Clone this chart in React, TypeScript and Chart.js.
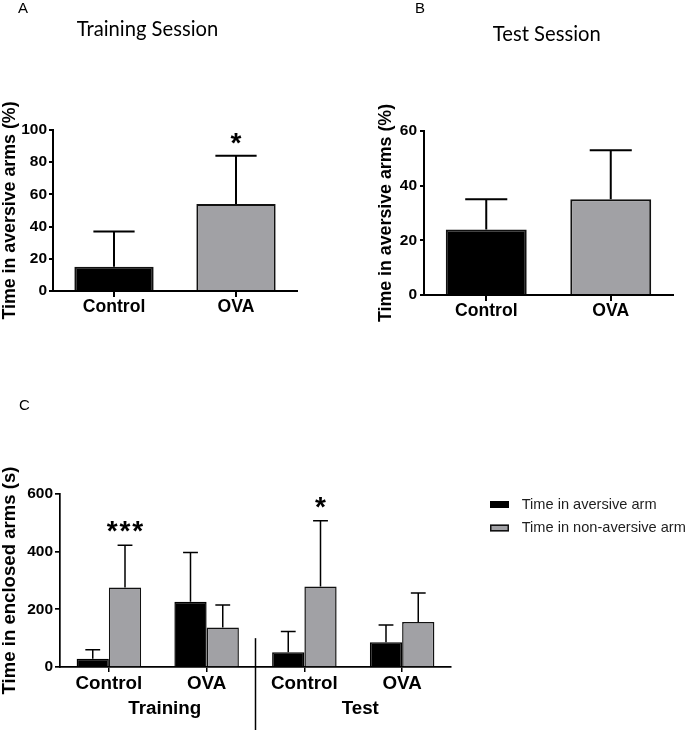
import React, { useEffect, useRef } from 'react';
import { Chart, registerables } from 'chart.js';

Chart.register(...registerables);

// ---------------- Data ----------------
const sessionCategories = ['Control', 'OVA'];

const trainingPercent = [15, 54];
const trainingPercentErr = [22, 30];
const trainingStars = ['', '*'];

const testPercent = [24, 35];
const testPercentErr = [11, 18];
const testStars = ['', ''];

const enclosedCategories = ['Control', 'OVA', 'Control', 'OVA'];
const enclosedGroups = ['Training', 'Test'];
const aversiveTime = [29, 226, 51, 86];
const aversiveTimeErr = [31, 171, 72, 60];
const aversiveStars = ['', '', '', ''];
const nonAversiveTime = [276, 137, 279, 156];
const nonAversiveTimeErr = [146, 78, 228, 101];
const nonAversiveStars = ['***', '', '*', ''];

const seriesLabels = ['Time in aversive arm', 'Time in non-aversive arm'];
const panelTitles = ['Training Session', 'Test Session'];
const panelLetters = ['A', 'B', 'C'];
const yTitlePercent = 'Time in aversive arms (%)';
const yTitleSeconds = 'Time in enclosed arms (s)';

const yTicksTraining = [0, 20, 40, 60, 80, 100];
const yTicksTest = [0, 20, 40, 60];
const yTicksEnclosed = [0, 200, 400, 600];

// ---------------- Styles ----------------
const FONT = '"Liberation Sans", Arial, Helvetica, sans-serif';
const BLACK_FILL = '#000000';
const GRAY_FILL = '#a1a1a5';
const EDGE = '#111111';

// ---------------- Plugins ----------------
const errorBarPlugin = {
  id: 'errorBars',
  afterDatasetsDraw(chart: any, _args: any, opts: any) {
    const { ctx } = chart;
    const yScale = chart.scales.y;
    chart.data.datasets.forEach((ds: any, di: number) => {
      const meta = chart.getDatasetMeta(di);
      meta.data.forEach((bar: any, i: number) => {
        const v = ds.data[i];
        const e = ds.errors ? ds.errors[i] : 0;
        const { x, width } = bar.getProps(['x', 'width'], true);
        const yVal = yScale.getPixelForValue(v);
        const yTop = yScale.getPixelForValue(v + e);
        const half = (width * opts.capRatio) / 2;
        ctx.save();
        ctx.strokeStyle = opts.color;
        ctx.lineWidth = opts.lineWidth;
        ctx.beginPath();
        ctx.moveTo(x, yVal);
        ctx.lineTo(x, yTop);
        ctx.moveTo(x - half, yTop);
        ctx.lineTo(x + half, yTop);
        ctx.stroke();
        const s: string = ds.stars ? ds.stars[i] : '';
        if (s) {
          ctx.font = opts.starFont;
          ctx.fillStyle = opts.color;
          ctx.textAlign = 'center';
          ctx.textBaseline = 'alphabetic';
          const m = ctx.measureText('*');
          const cy = yTop - opts.starGap;
          const by = cy + (m.actualBoundingBoxAscent - m.actualBoundingBoxDescent) / 2;
          const n = s.length;
          for (let k = 0; k < n; k++) {
            ctx.fillText(s[k], x + (k - (n - 1) / 2) * opts.starSpacing, by);
          }
        }
        ctx.restore();
      });
    });
  },
};

const sideLegendPlugin = {
  id: 'sideLegend',
  afterDraw(chart: any, _args: any, opts: any) {
    const { ctx, chartArea } = chart;
    chart.data.datasets.forEach((ds: any, i: number) => {
      const bx = chartArea.right + opts.offsetX;
      const cy = chartArea.top + opts.offsetY + i * opts.spacing;
      ctx.save();
      ctx.fillStyle = ds.backgroundColor;
      ctx.fillRect(bx, cy - opts.boxH / 2, opts.boxW, opts.boxH);
      ctx.strokeStyle = ds.borderColor;
      ctx.lineWidth = 1.5;
      ctx.strokeRect(bx + 0.75, cy - opts.boxH / 2 + 0.75, opts.boxW - 1.5, opts.boxH - 1.5);
      ctx.font = opts.font;
      ctx.fillStyle = opts.color;
      ctx.textAlign = 'left';
      ctx.textBaseline = 'middle';
      ctx.fillText(ds.label, bx + opts.textGap, cy);
      ctx.restore();
    });
  },
};

const groupDividerPlugin = {
  id: 'groupDivider',
  afterDraw(chart: any, _args: any, opts: any) {
    const { ctx } = chart;
    const xs = chart.scales.x;
    const ys = chart.scales.y;
    const px = (xs.getPixelForValue(opts.after) + xs.getPixelForValue(opts.after + 1)) / 2;
    const top = ys.getPixelForValue(opts.fromValue);
    ctx.save();
    ctx.strokeStyle = '#000';
    ctx.lineWidth = opts.lineWidth;
    ctx.beginPath();
    ctx.moveTo(px, top);
    ctx.lineTo(px, chart.height - opts.bottomGap);
    ctx.stroke();
    ctx.restore();
  },
};

// ---------------- Configs ----------------
function sessionConfig(p: {
  means: number[];
  errs: number[];
  stars: string[];
  yTicks: number[];
  w: number;
  h: number;
  left: number;
  right: number;
  top: number;
  bottom: number;
  padLeft: number;
  titlePad: number;
  tickPad: number;
}): any {
  return {
    type: 'bar',
    data: {
      labels: sessionCategories,
      datasets: [
        {
          data: p.means,
          errors: p.errs,
          stars: p.stars,
          backgroundColor: [BLACK_FILL, GRAY_FILL],
          borderColor: EDGE,
          borderWidth: 2,
          borderSkipped: 'bottom',
          categoryPercentage: 0.65,
          barPercentage: 1,
        },
      ],
    },
    plugins: [errorBarPlugin],
    options: {
      responsive: false,
      animation: false,
      events: [],
      layout: { padding: { left: p.padLeft, top: p.top, right: p.w - p.right, bottom: 0 } },
      plugins: {
        legend: { display: false },
        tooltip: { enabled: false },
        errorBars: {
          color: '#000',
          lineWidth: 2,
          capRatio: 0.52,
          starGap: 17.5,
          starSpacing: 12.7,
          starFont: `bold 28px ${FONT}`,
        },
      },
      scales: {
        x: {
          offset: true,
          grid: { offset: false, drawOnChartArea: false, drawTicks: true, tickLength: 6, color: '#000', lineWidth: 2 },
          border: { display: true, color: '#000', width: 2 },
          ticks: { color: '#000', padding: 0, font: { family: FONT, size: 17.6, weight: 'bold' } },
          afterFit: (s: any) => {
            s.height = p.h - p.bottom;
          },
        },
        y: {
          min: p.yTicks[0],
          max: p.yTicks[p.yTicks.length - 1],
          ticks: {
            stepSize: p.yTicks[1] - p.yTicks[0],
            color: '#000',
            padding: p.tickPad,
            font: { family: FONT, size: 15.5, weight: 'bold' },
          },
          grid: { drawOnChartArea: false, drawTicks: true, tickLength: 4, color: '#000', lineWidth: 2 },
          border: { display: true, color: '#000', width: 2 },
          title: {
            display: true,
            text: yTitlePercent,
            color: '#000',
            padding: { top: p.titlePad, bottom: 0 },
            font: { family: FONT, size: 17.8, weight: 'bold', lineHeight: 1 },
          },
          afterFit: (s: any) => {
            s.width = p.left - p.padLeft;
          },
        },
      },
    },
  };
}

function enclosedConfig(): any {
  const W = 685;
  const H = 352;
  const left = 60;
  const right = 451;
  const top = 114;
  const bottom = 287;
  const xH = 30;
  return {
    type: 'bar',
    data: {
      labels: enclosedCategories,
      datasets: [
        {
          label: seriesLabels[0],
          data: aversiveTime,
          errors: aversiveTimeErr,
          stars: aversiveStars,
          backgroundColor: BLACK_FILL,
          borderColor: '#000',
          borderWidth: 1.5,
          borderSkipped: 'bottom',
          categoryPercentage: 0.66,
          barPercentage: 1,
        },
        {
          label: seriesLabels[1],
          data: nonAversiveTime,
          errors: nonAversiveTimeErr,
          stars: nonAversiveStars,
          backgroundColor: GRAY_FILL,
          borderColor: EDGE,
          borderWidth: 1.5,
          borderSkipped: 'bottom',
          categoryPercentage: 0.66,
          barPercentage: 1,
        },
      ],
    },
    plugins: [errorBarPlugin, sideLegendPlugin, groupDividerPlugin],
    options: {
      responsive: false,
      animation: false,
      events: [],
      layout: { padding: { left: 0, top, right: W - right, bottom: 0 } },
      plugins: {
        legend: { display: false },
        tooltip: { enabled: false },
        errorBars: {
          color: '#000',
          lineWidth: 1.5,
          capRatio: 0.46,
          starGap: 18.5,
          starSpacing: 12.7,
          starFont: `bold 28px ${FONT}`,
        },
        sideLegend: {
          offsetX: 39,
          offsetY: 10.5,
          spacing: 23.5,
          boxW: 19,
          boxH: 7,
          textGap: 31.7,
          font: `14.6px ${FONT}`,
          color: '#1e1e1e',
        },
        groupDivider: { after: 1, fromValue: 100, bottomGap: 2, lineWidth: 1.5 },
      },
      scales: {
        x: {
          offset: true,
          weight: 0,
          grid: { offset: false, drawOnChartArea: false, drawTicks: true, tickLength: 5, color: '#000', lineWidth: 1.5 },
          border: { display: true, color: '#000', width: 1.7 },
          ticks: { color: '#000', padding: 1, font: { family: FONT, size: 18.8, weight: 'bold' } },
          afterFit: (s: any) => {
            s.height = xH;
          },
        },
        x2: {
          type: 'category',
          axis: 'x',
          position: 'bottom',
          weight: 1,
          labels: enclosedGroups,
          offset: true,
          grid: { display: false, drawTicks: false },
          border: { display: false },
          ticks: { color: '#000', padding: 1, labelOffset: 7, font: { family: FONT, size: 18.8, weight: 'bold' } },
          afterFit: (s: any) => {
            s.height = H - bottom - xH;
          },
        },
        y: {
          min: yTicksEnclosed[0],
          max: yTicksEnclosed[yTicksEnclosed.length - 1],
          ticks: {
            stepSize: yTicksEnclosed[1] - yTicksEnclosed[0],
            color: '#000',
            padding: 2,
            font: { family: FONT, size: 15.5, weight: 'bold' },
          },
          grid: { drawOnChartArea: false, drawTicks: true, tickLength: 5, color: '#000', lineWidth: 1.7 },
          border: { display: true, color: '#000', width: 1.7 },
          title: {
            display: true,
            text: yTitleSeconds,
            color: '#000',
            padding: { top: 0.75, bottom: 0 },
            font: { family: FONT, size: 18.6, weight: 'bold', lineHeight: 1 },
          },
          afterFit: (s: any) => {
            s.width = left;
          },
        },
      },
    },
  };
}

// ---------------- Components ----------------
function ChartCanvas(props: { make: () => any; left: number; top: number; width: number; height: number }) {
  const ref = useRef<HTMLCanvasElement | null>(null);
  useEffect(() => {
    const chart = new Chart(ref.current as HTMLCanvasElement, props.make());
    return () => chart.destroy();
  }, []);
  return (
    <canvas
      ref={ref}
      width={props.width}
      height={props.height}
      style={{
        position: 'absolute',
        left: props.left,
        top: props.top,
        width: props.width,
        height: props.height,
        display: 'block',
      }}
    />
  );
}

const letterStyle = (left: number, top: number): React.CSSProperties => ({
  position: 'absolute',
  left,
  top,
  fontFamily: FONT,
  fontSize: 15,
  lineHeight: '15px',
  color: '#000',
  whiteSpace: 'nowrap',
});

const titleStyle = (center: number, top: number): React.CSSProperties => ({
  position: 'absolute',
  left: center - 150,
  top,
  width: 300,
  textAlign: 'center',
  fontFamily: 'Lato, "Open Sans", sans-serif',
  fontSize: 20.2,
  lineHeight: '20.2px',
  color: '#000',
  whiteSpace: 'nowrap',
});

export default function App() {
  return (
    <div
      style={{
        position: 'absolute',
        left: 0,
        top: 0,
        width: 685,
        height: 732,
        overflow: 'hidden',
        background: '#fff',
      }}
    >
      <ChartCanvas
        left={0}
        top={0}
        width={330}
        height={330}
        make={() =>
          sessionConfig({
            means: trainingPercent,
            errs: trainingPercentErr,
            stars: trainingStars,
            yTicks: yTicksTraining,
            w: 330,
            h: 330,
            left: 53,
            right: 297,
            top: 130,
            bottom: 291,
            padLeft: 0,
            titlePad: 1.25,
            tickPad: 2,
          })
        }
      />
      <ChartCanvas
        left={330}
        top={0}
        width={355}
        height={330}
        make={() =>
          sessionConfig({
            means: testPercent,
            errs: testPercentErr,
            stars: testStars,
            yTicks: yTicksTest,
            w: 355,
            h: 330,
            left: 94,
            right: 343,
            top: 131,
            bottom: 295,
            padLeft: 46,
            titlePad: 1.7,
            tickPad: 3,
          })
        }
      />
      <ChartCanvas left={0} top={380} width={685} height={352} make={enclosedConfig} />
      <div style={letterStyle(18, 0)}>{panelLetters[0]}</div>
      <div style={letterStyle(415, 0)}>{panelLetters[1]}</div>
      <div style={letterStyle(19, 397)}>{panelLetters[2]}</div>
      <div style={titleStyle(147.5, 18.3)}>{panelTitles[0]}</div>
      <div style={titleStyle(546.8, 22.8)}>{panelTitles[1]}</div>
    </div>
  );
}
